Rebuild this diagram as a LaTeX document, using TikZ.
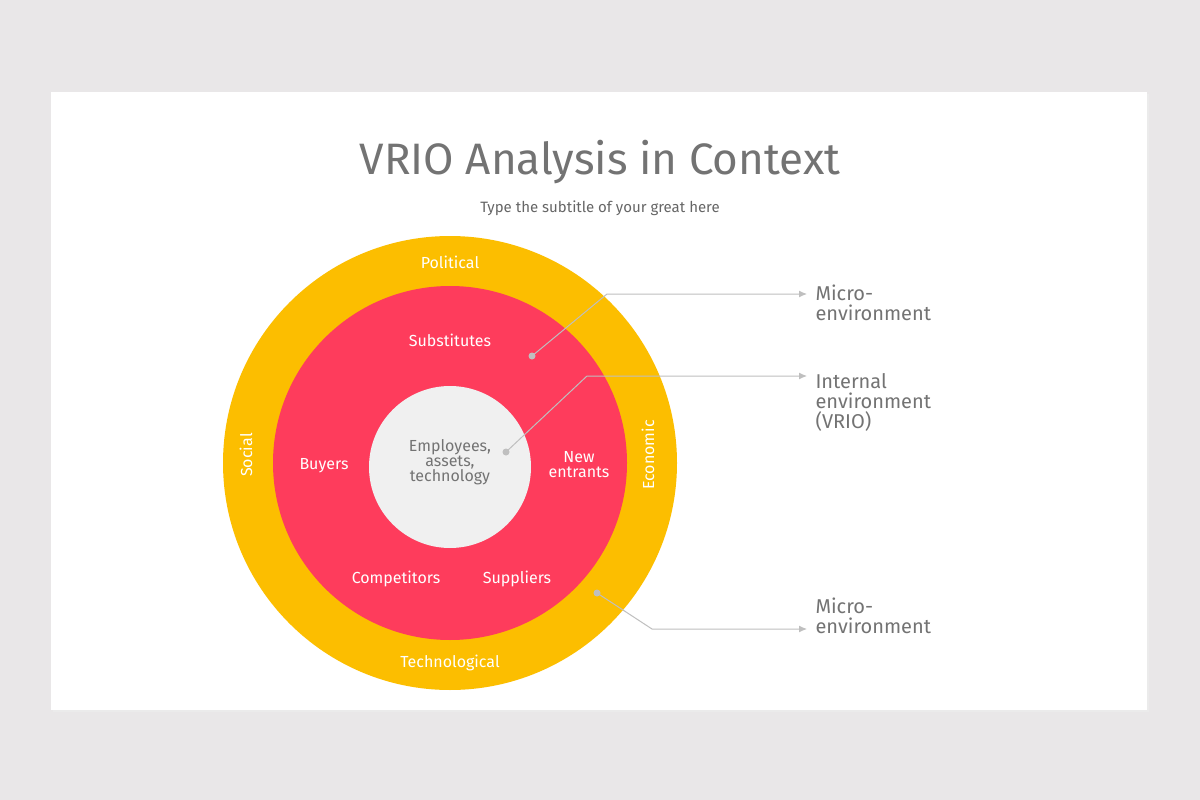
\documentclass[tikz,border=0pt]{standalone}
\usepackage{fontspec}
\setmainfont{Fira Sans}
\begin{document}
\begin{tikzpicture}[x=1pt,y=-1pt,
  lbl/.style={text=white,font=\fontsize{16}{18}\selectfont,align=center},
  side/.style={text=black!55,font=\fontsize{20}{24}\selectfont,align=left,anchor=west},
  conn/.style={draw=black!25,line width=1pt},
  arr/.style={conn,-{Latex[length=8pt,width=7pt]}},
  dot/.style={circle,fill=black!25,inner sep=0pt,minimum size=7pt}]
\usetikzlibrary{arrows.meta}
\fill[fill={rgb,255:red,233;green,231;blue,232}] (0,0) rectangle (1200,800);
\fill[black!8] (53,94) rectangle (1149,712);
\fill[white] (51,92) rectangle (1147,710);
\node[text=black!55,font=\fontsize{44}{50}\selectfont] (title) at (600,162) {VRIO Analysis in Context};
\node[text=black!60,font=\fontsize{15}{18}\selectfont] (sub) at (600,208) {Type the subtitle of your great here};
\fill[fill={rgb,255:red,252;green,190;blue,0}] (450,463) circle (227);
\fill[fill={rgb,255:red,254;green,60;blue,92}] (450,463) circle (177);
\fill[black!6] (450,467) circle (81);
\node[lbl] (pol) at (450,262) {Political};
\node[lbl] (tech) at (450,663) {Technological};
\node[lbl,rotate=90] (soc) at (246,455) {Social};
\node[lbl,rotate=90] (eco) at (648,455) {Economic};
\node[lbl] (subst) at (450,340) {Substitutes};
\node[lbl] (buy) at (324,466) {Buyers};
\node[lbl] (new) at (579,465) {New\\[-3pt]entrants};
\node[lbl] (comp) at (396,579) {Competitors};
\node[lbl] (supp) at (517,579) {Suppliers};
\node[text=black!55,font=\fontsize{16}{18}\selectfont,align=center] (emp) at (450,462) {Employees,\\[-3pt]assets,\\[-3pt]technology};
\node[dot] (d1) at (532,356) {};
\node[dot] (d2) at (506,452) {};
\node[dot] (d3) at (597,593) {};
\coordinate (b1) at (607,294); \coordinate (e1) at (807,294);
\coordinate (b2) at (587,376); \coordinate (e2) at (807,376);
\coordinate (b3) at (652,629); \coordinate (e3) at (807,629);
\draw[arr] (d1.center) -- (b1) -- (e1);
\draw[arr] (d2.center) -- (b2) -- (e2);
\draw[arr] (d3.center) -- (b3) -- (e3);
\node[side] (t1) at (812,303) {Micro-\\[-4pt]environment};
\node[side] (t2) at (812,402) {Internal\\[-4pt]environment\\[-4pt](VRIO)};
\node[side] (t3) at (812,616) {Micro-\\[-4pt]environment};
\end{tikzpicture}
\end{document}
